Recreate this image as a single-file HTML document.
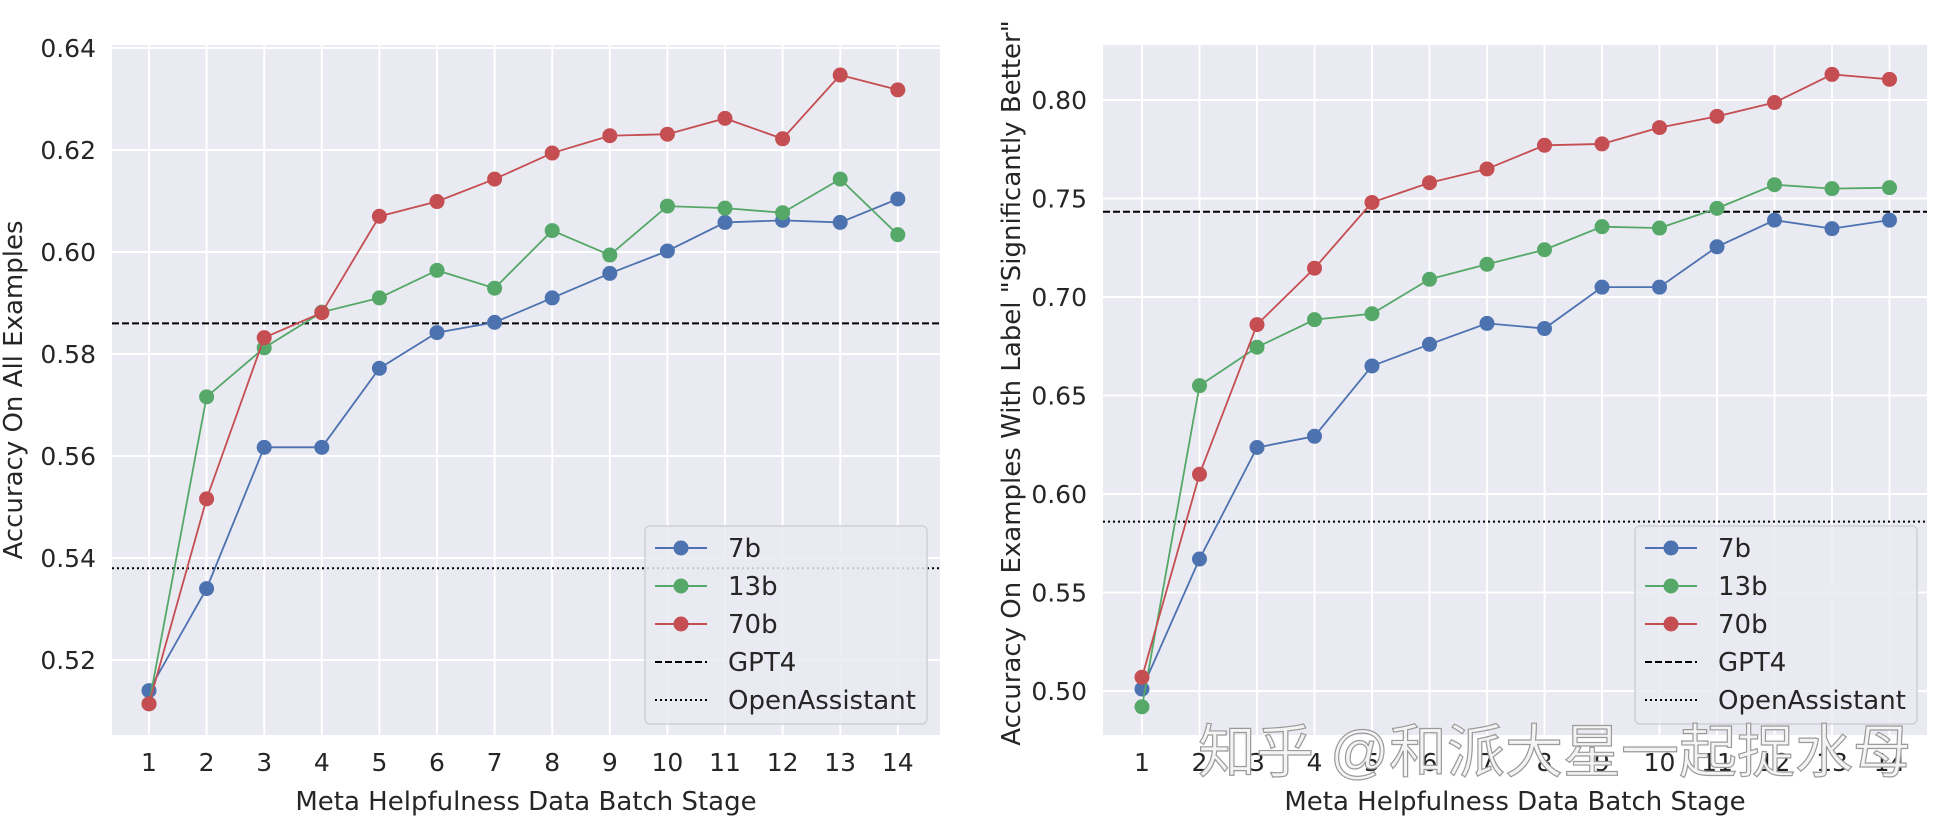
<!DOCTYPE html>
<html><head><meta charset="utf-8"><style>
body{margin:0;background:#fff;width:1950px;height:826px;overflow:hidden}
svg{font-family:"DejaVu Sans","Liberation Sans",sans-serif}
</style></head><body>
<svg id="c" width="1950" height="826" xmlns="http://www.w3.org/2000/svg"></svg>
<script>
const stages=[1,2,3,4,5,6,7,8,9,10,11,12,13,14];
const leftTicks=[0.52,0.54,0.56,0.58,0.60,0.62,0.64];
const rightTicks=[0.50,0.55,0.60,0.65,0.70,0.75,0.80];
const left7b=[0.514,0.534,0.5617,0.5617,0.5772,0.5842,0.5862,0.5910,0.5958,0.6002,0.6058,0.6062,0.6058,0.6104];
const left13b=[0.5114,0.5716,0.5812,0.5882,0.5910,0.5964,0.5929,0.6042,0.5994,0.6090,0.6086,0.6077,0.6143,0.6034];
const left70b=[0.5114,0.5516,0.5832,0.5881,0.6070,0.6099,0.6143,0.6194,0.6228,0.6231,0.6262,0.6222,0.6347,0.6318];
const leftGPT4=0.586, leftOA=0.538;
const right7b=[0.501,0.567,0.6236,0.6293,0.665,0.676,0.6866,0.684,0.705,0.705,0.7255,0.739,0.7347,0.739];
const right13b=[0.492,0.655,0.6745,0.6885,0.6915,0.709,0.7166,0.724,0.7357,0.735,0.745,0.757,0.755,0.7555];
const right70b=[0.507,0.610,0.686,0.7146,0.748,0.758,0.765,0.777,0.7777,0.786,0.7917,0.7987,0.813,0.8105];
const rightGPT4=0.7433, rightOA=0.586;
const NS="http://www.w3.org/2000/svg";
const svg=document.getElementById('c');
function mk(t,a,p){const e=document.createElementNS(NS,t);for(const k in a)e.setAttribute(k,a[k]);(p||svg).appendChild(e);return e;}
const cols={"7b":"#4c72b0","13b":"#55a868","70b":"#c44e52"};
function panel(o){
 const g=mk('g',{});
 
 
 const sx=v=>o.x1+(v-1)*o.xs;
 const sy=v=>o.y0+(v-o.v0)*(o.y1-o.y0)/(o.v1-o.v0);
 const bg=mk('rect',{x:o.L,y:45,width:o.R-o.L,height:690,fill:'#eaeaf2'},g);
 
 o.ticks.forEach(t=>{const y=sy(t);
  mk('line',{x1:o.L,x2:o.R,y1:y,y2:y,stroke:'#fff','stroke-width':2},g);
  const tx=mk('text',{x:o.L-16,y:y+9,'text-anchor':'end','font-size':25,fill:'#262626'},g);tx.textContent=t.toFixed(2);
  });
 stages.forEach(s=>{const x=sx(s);
  mk('line',{x1:x,x2:x,y1:45,y2:735,stroke:'#fff','stroke-width':2},g);
  const tx=mk('text',{x:x,y:771,'text-anchor':'middle','font-size':25,fill:'#262626'},g);tx.textContent=s;
  });
 const gy=sy(o.gpt);const l1=mk('line',{x1:o.L,x2:o.R,y1:gy,y2:gy,stroke:'#000','stroke-width':2,'stroke-dasharray':'7,3'},g);
 
 const oy=sy(o.oa);const l2=mk('line',{x1:o.L,x2:o.R,y1:oy,y2:oy,stroke:'#000','stroke-width':2,'stroke-dasharray':'2,3'},g);
 
 [["7b",o.s7],["13b",o.s13],["70b",o.s70]].forEach(([n,d])=>{
  const pts=d.map((v,i)=>sx(stages[i])+','+sy(v)).join(' ');
  const pl=mk('polyline',{points:pts,fill:'none',stroke:cols[n],'stroke-width':1.8},g);
  
  d.forEach((v,i)=>{const c=mk('circle',{cx:sx(stages[i]),cy:sy(v),r:7.5,fill:cols[n]},g);
   });
 });
 const lx=o.lgx,ly=526;
 const lb=mk('rect',{x:lx,y:ly,width:282,height:198,rx:5,fill:'#eaeaf2','fill-opacity':0.85,stroke:'#d0d0d8','stroke-width':1.5},g);
 
 const items=[["7b","s"],["13b","s"],["70b","s"],["GPT4","d"],["OpenAssistant","o"]];
 items.forEach((it,i)=>{const y=ly+22+i*38;
  if(it[1]=="s"){mk('line',{x1:lx+10,x2:lx+62,y1:y,y2:y,stroke:cols[it[0]],'stroke-width':2},g);mk('circle',{cx:lx+36,cy:y,r:7.5,fill:cols[it[0]]},g);}
  else mk('line',{x1:lx+10,x2:lx+62,y1:y,y2:y,stroke:'#000','stroke-width':2,'stroke-dasharray':it[1]=="d"?'7,3':'2,3'},g);
  const t=mk('text',{x:lx+83,y:y+9,'font-size':26,fill:'#262626'},g);t.textContent=it[0];
  });
 const xl=mk('text',{x:(o.L+o.R)/2,y:810,'text-anchor':'middle','font-size':26,fill:'#262626'},g);xl.textContent='Meta Helpfulness Data Batch Stage';
 
 const yl=mk('text',{x:0,y:0,'text-anchor':'middle','font-size':26,fill:'#262626',transform:`translate(${o.ylx},${o.yly}) rotate(-90)`},g);yl.textContent=o.ylab;
 
}
panel({name:'left-chart',L:112,R:940,x1:149,xs:57.6,v0:0.64,y0:48,v1:0.52,y1:660,ticks:leftTicks,gpt:leftGPT4,oa:leftOA,s7:left7b,s13:left13b,s70:left70b,lgx:645,ylx:22,yly:390,ylab:'Accuracy On All Examples'});
panel({name:'right-chart',L:1103,R:1927,x1:1142,xs:57.5,v0:0.80,y0:100,v1:0.50,y1:691,ticks:rightTicks,gpt:rightGPT4,oa:rightOA,s7:right7b,s13:right13b,s70:right70b,lgx:1635,ylx:1020,yly:383,ylab:'Accuracy On Examples With Label "Significantly Better"'});
const wm=mk('text',{x:1198,y:772,'font-size':58,fill:'#f4f4f4',stroke:'#9a9a9a','stroke-width':1.2,'font-family':'"Liberation Sans","Noto Sans CJK SC",sans-serif'});
wm.textContent='知乎 @和派大星一起捉水母';


</script>
</body></html>
